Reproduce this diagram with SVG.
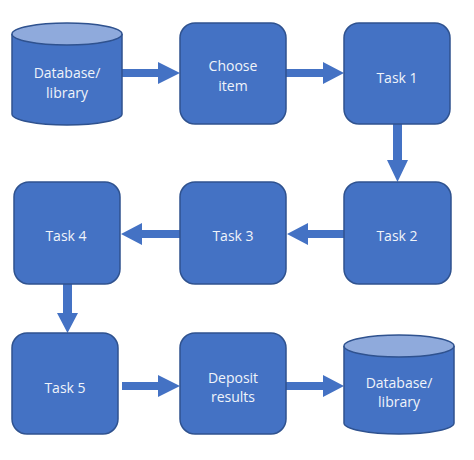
<svg xmlns="http://www.w3.org/2000/svg" width="474" height="460" viewBox="0 0 474 460">
<style>
.box{fill:#4472C4;stroke:#2F528F;stroke-width:1.5}
.top{fill:#8FAADC;stroke:#2F528F;stroke-width:1.5}
.arr{fill:#4472C4}
text{font-family:"Open Sans","Liberation Sans",sans-serif;font-size:14px;fill:#F0F4FA;text-anchor:middle;dominant-baseline:central}
</style>
<rect width="474" height="460" fill="#FFFFFF"/>
<g id="connectors">
<polygon class="arr" points="122,69 158,69 158,62 180,73 158,84 158,77 122,77"/>
<polygon class="arr" points="286,69 323,69 323,62 344,73 323,84 323,77 286,77"/>
<polygon class="arr" points="393,124 402,124 402,160 408,160 397.5,182 387,160 393,160"/>
<polygon class="arr" points="344,230 308,230 308,223 287,234 308,245 308,238 344,238"/>
<polygon class="arr" points="180,230 142,230 142,223 121,234 142,245 142,238 180,238"/>
<polygon class="arr" points="63,284 72,284 72,313 78,313 67.5,333 57,313 63,313"/>
<polygon class="arr" points="122,382 158,382 158,375 180,386 158,397 158,390 122,390"/>
<polygon class="arr" points="286,382 323,382 323,375 344,386 323,397 323,390 286,390"/>
</g>
<g id="db1">
<path class="box" d="M12,34 V114 A55,11 0 0 0 122,114 V34"/>
<ellipse class="top" cx="67" cy="34" rx="55" ry="11"/>
<text x="67" y="72">Database/</text>
<text x="67" y="92">library</text>
</g>
<g id="choose">
<rect class="box" x="180" y="23" width="106" height="101" rx="15"/>
<text x="233" y="65">Choose</text>
<text x="233" y="85">item</text>
</g>
<g id="task1">
<rect class="box" x="344" y="23" width="106" height="101" rx="15"/>
<text x="397" y="77">Task 1</text>
</g>
<g id="task2">
<rect class="box" x="344" y="182" width="107" height="102" rx="15"/>
<text x="397" y="235">Task 2</text>
</g>
<g id="task3">
<rect class="box" x="180" y="182" width="106" height="102" rx="15"/>
<text x="233" y="235">Task 3</text>
</g>
<g id="task4">
<rect class="box" x="14" y="182" width="106" height="102" rx="15"/>
<text x="66" y="235">Task 4</text>
</g>
<g id="task5">
<rect class="box" x="12" y="333" width="106" height="101" rx="15"/>
<text x="65" y="387">Task 5</text>
</g>
<g id="deposit">
<rect class="box" x="180" y="333" width="106" height="101" rx="15"/>
<text x="233" y="377">Deposit</text>
<text x="233" y="396">results</text>
</g>
<g id="db2">
<path class="box" d="M344,346 V423 A55,11 0 0 0 454,423 V346"/>
<ellipse class="top" cx="399" cy="346" rx="55" ry="11"/>
<text x="399" y="382">Database/</text>
<text x="399" y="401">library</text>
</g>
</svg>
